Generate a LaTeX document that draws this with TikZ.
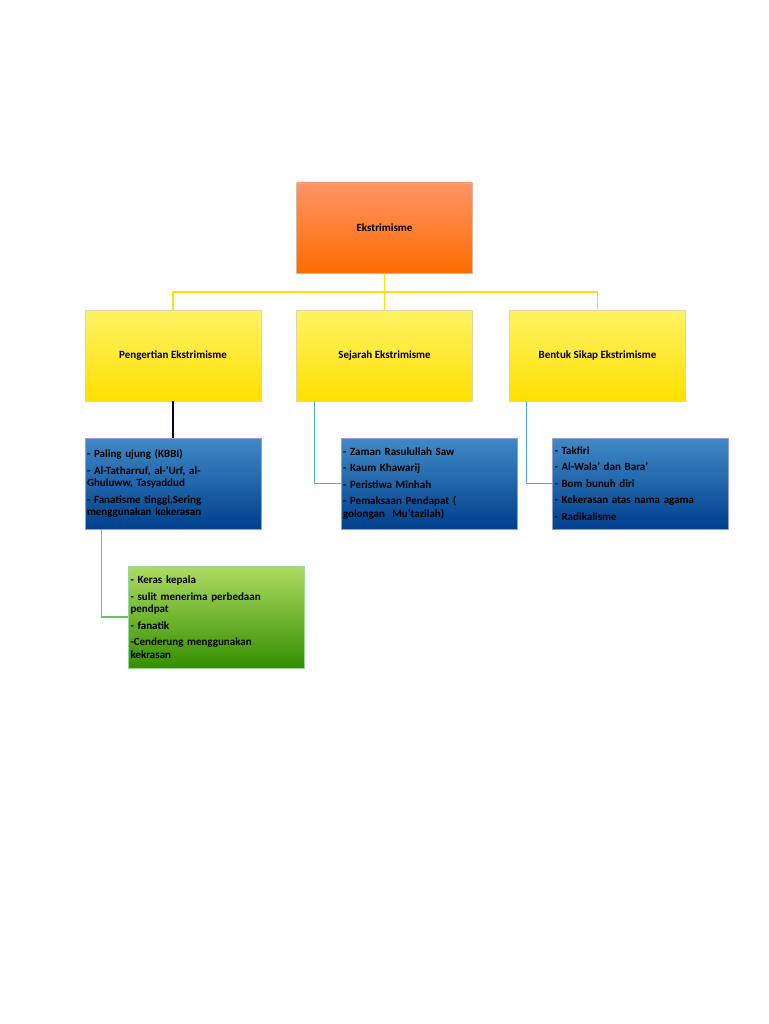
\documentclass[tikz,border=0pt]{standalone}
\usepackage{fontspec}
\setmainfont{Carlito}
\begin{document}
\begin{tikzpicture}[x=1pt,y=-1pt,
  box/.style={draw=#1!60!black!40!white,line width=0.8pt,minimum width=176pt,inner sep=1pt,font=\bfseries\fontsize{11}{12.5}\selectfont},
  org/.style={box=orange,top color=orange!60!red!60!white,bottom color=orange!85!red,minimum height=90pt},
  yel/.style={box=yellow,top color=yellow!85!orange!60!white,bottom color=yellow!75!orange,minimum height=91pt},
  blu/.style={box=blue,top color=blue!45!cyan!70!black!75!white,bottom color=blue!55!cyan!55!black,minimum height=91pt,text width=172pt,align=left},
  grn/.style={box=green,top color=green!55!black!45!white!70!yellow,bottom color=green!45!black!80!yellow,minimum height=102pt,text width=172pt,align=left},
  yl/.style={draw=yellow!85!orange,line width=1.2pt},
  bl/.style={draw=blue!50!cyan!70!white,line width=1.2pt}]
\useasboundingbox (0,0) rectangle (768,1024);
\node[org] (e) at (384.5,228) {Ekstrimisme};
\node[yel] (p) at (173,355.5) {Pengertian Ekstrimisme};
\node[yel] (s) at (384.5,355.5) {Sejarah Ekstrimisme};
\node[yel] (b) at (597.5,355.5) {Bentuk Sikap Ekstrimisme};
\node[blu] (p1) at (173,483.5) {- Paling ujung (KBBI)\\[4pt]- Al-Tatharruf, al-'Urf, al-\\Ghuluww, Tasyaddud\\[4pt]- Fanatisme tinggi,Sering\\menggunakan kekerasan};
\node[blu] (s1) at (429,483.5) {- Zaman Rasulullah Saw\\[4pt]- Kaum Khawarij\\[4pt]- Peristiwa Minhah\\[4pt]- Pemaksaan Pendapat (\\golongan\ \ Mu'tazilah)};
\node[blu] (b1) at (640.5,483.5) {- Takfiri\\[4pt]- Al-Wala' dan Bara'\\[4pt]- Bom bunuh diri\\[4pt]- Kekerasan atas nama agama\\[4pt]- Radikalisme};
\node[grn] (g) at (216.5,617) {- Keras kepala\\[4pt]- sulit menerima perbedaan\\pendpat\\[4pt]- fanatik\\[4pt]-Cenderung menggunakan\\kekrasan};
\coordinate (j) at (384.5,292);
\draw[yl] (e.south) -- (j);
\draw[yl] (j) -| (p.north);
\draw[yl] (j) -| (b.north);
\draw[yl] (j) -- (s.north);
\draw[line width=1.5pt,draw=black!80!blue] (p.south) -- (p1.north);
\draw[bl] (s.south west)++(18,0) |- (s1.west);
\draw[bl] (b.south west)++(17,0) |- (b1.west);
\draw[draw=green!60!black!60!white,line width=1.2pt] (p1.south west)++(17,0) |- (g.west);
\end{tikzpicture}
\end{document}
